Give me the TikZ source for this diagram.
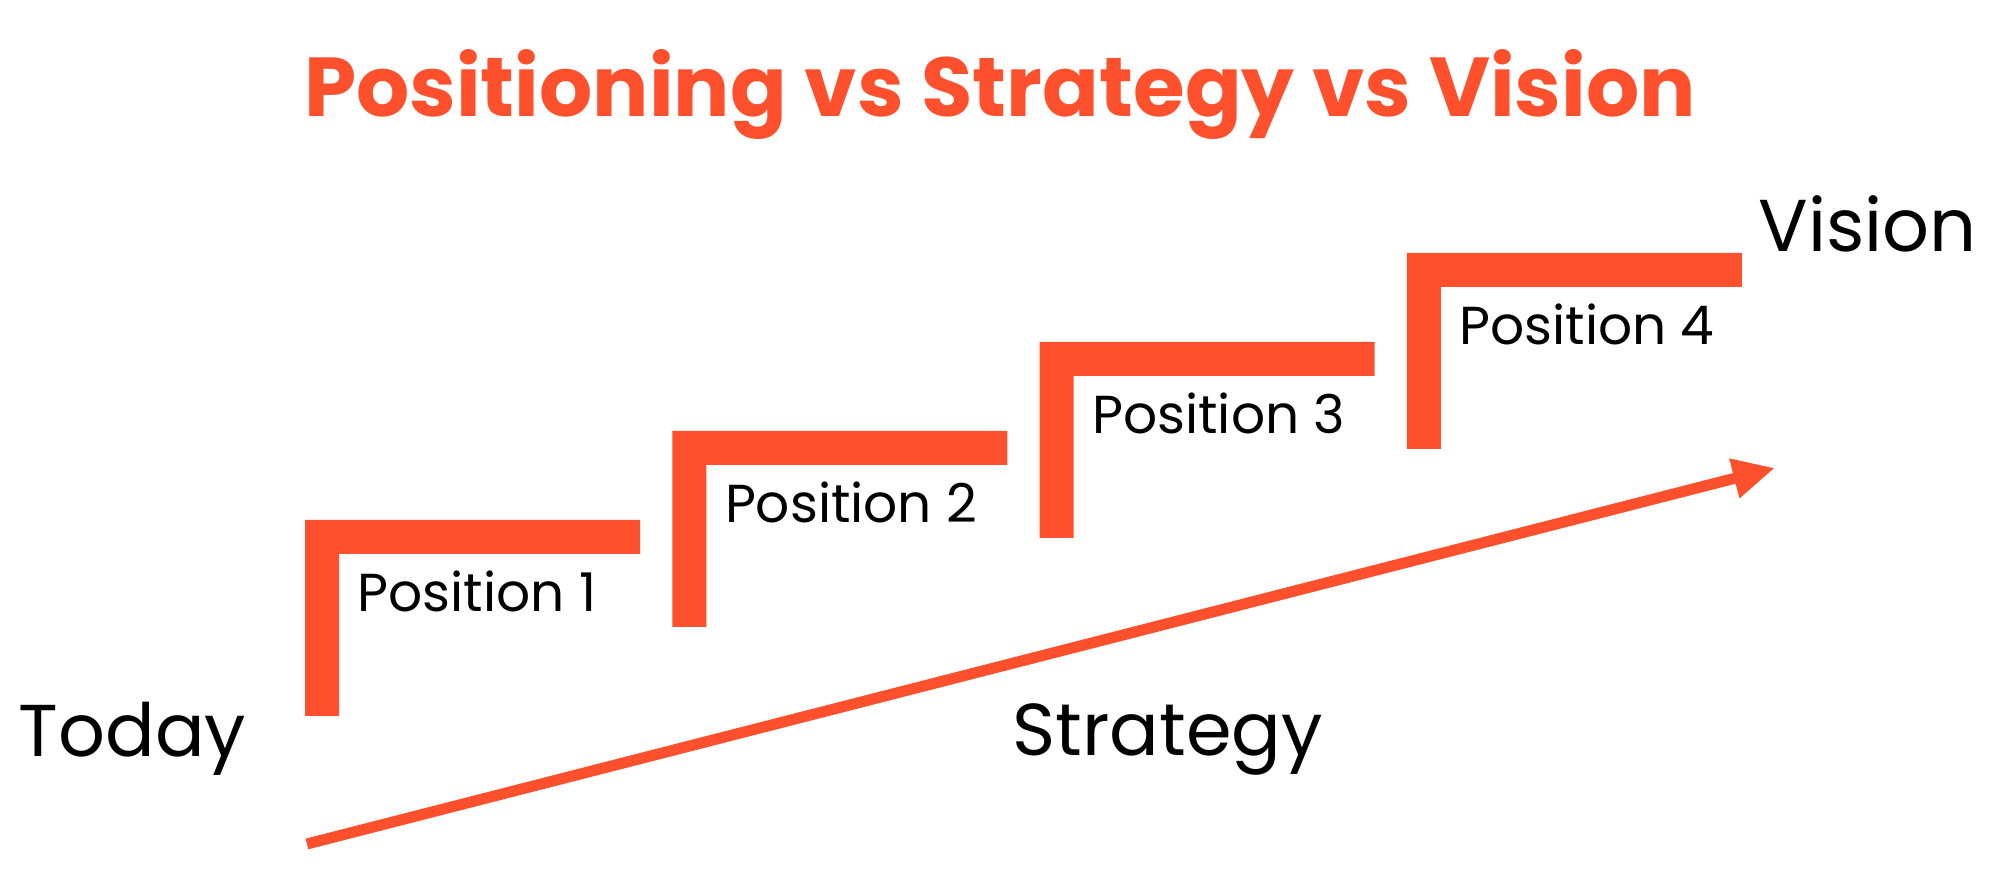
\documentclass[tikz,border=0pt]{standalone}
\usepackage{fontspec}
\setmainfont{Poppins}
\usepackage{pgf,tikz}
\usetikzlibrary{arrows.meta, calc}
\definecolor{stairorange}{HTML}{FF502D}

\begin{document}
\begin{tikzpicture}[
        stairbar/.style={fill=stairorange, draw=none},
        poslabel/.style={anchor=base west, inner sep=0pt, font=\fontsize{15.2}{18}\selectfont},
        biglabel/.style={anchor=base west, inner sep=0pt, font=\fontsize{20.9}{24}\selectfont}
    ]
        \useasboundingbox (0,0) rectangle (20,8.93);
        \node[anchor=base, inner sep=0pt, text=stairorange, font=\fontsize{23.8}{28}\bfseries\selectfont] (title) at (10,7.76) {Positioning vs Strategy vs Vision};
        \foreach \i in {0,1,2,3} {
            \pgfmathsetmacro{\L}{3.05+3.673*\i}
            \pgfmathsetmacro{\T}{3.73+0.89*\i}
            \fill[stairbar] (\L,\T) -- ++(3.35,0) -- ++(0,-0.34) -- ++(-3.01,0) -- ++(0,-1.62) -- ++(-0.34,0) -- cycle;
            \pgfmathtruncatemacro{\n}{\i+1}
            \node[poslabel] (pos\n) at (\L+0.52,\T-0.92) {Position \n};
        }
        \node[biglabel] (today) at (0.18,1.36) {Today};
        \node[biglabel] (strategy) at (10.12,1.37) {Strategy};
        \node[biglabel] (vision) at (17.58,6.41) {Vision};
        \coordinate (start) at (3.07,0.49);
        \coordinate (goal) at (17.75,4.25);
        \draw[stairorange, line width=0.11cm, -{Triangle[length=0.42cm, width=0.38cm]}] (start) -- (goal);
    \end{tikzpicture}
\end{document}
